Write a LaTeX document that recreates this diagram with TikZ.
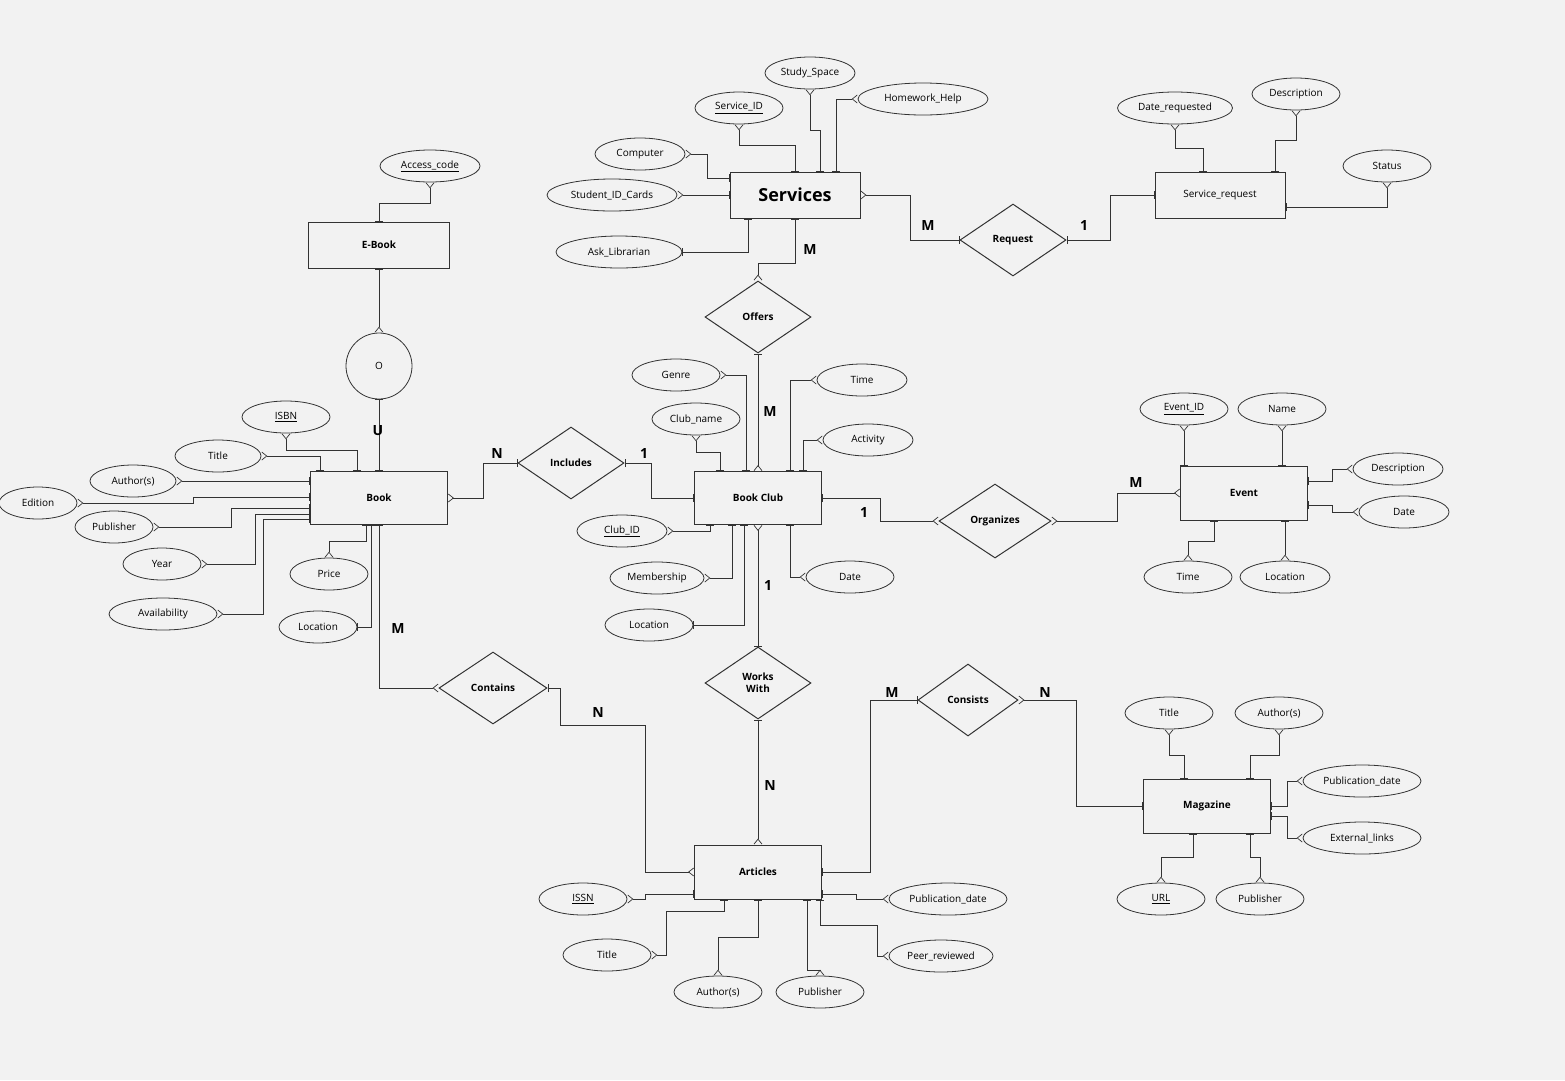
\documentclass[tikz,border=0pt]{standalone}
\usepackage{fontspec}
\setmainfont{Open Sans}
\usetikzlibrary{shapes.geometric,arrows.meta}
\definecolor{bg}{HTML}{F2F2F2}
\definecolor{ln}{HTML}{333333}
\tikzset{
  ent/.style={draw=ln,line width=1pt,rectangle,minimum width=#1,minimum height=50pt,inner sep=0pt,font=\bfseries\fontsize{10}{12}\selectfont},
  ent/.default=127pt,
  att/.style={draw=ln,line width=0.8pt,ellipse,minimum width=#1,minimum height=32pt,inner sep=0pt,font=\fontsize{10}{12}\selectfont,fill=bg},
  att/.default=88pt,
  rel/.style={draw=ln,line width=1pt,diamond,aspect=1.47,minimum width=106pt,minimum height=72pt,inner sep=0pt,align=center,font=\bfseries\fontsize{10}{12}\selectfont,fill=bg},
  card/.style={font=\bfseries\fontsize{14}{16}\selectfont},
  ln/.style={draw=ln,line width=0.7pt},
  bc/.style={ln,{Bar[width=8pt] Bar[width=0pt,sep=3pt]}-{Straight Barb[reversed,length=5pt,width=8pt]}},
  bb/.style={ln,{Bar[width=8pt] Bar[width=0pt,sep=3pt]}-{Bar[width=0pt,sep=3pt] Bar[width=8pt]}},
  cb/.style={ln,{Straight Barb[reversed,length=5pt,width=8pt]}-{Bar[width=0pt,sep=3pt] Bar[width=8pt]}},
  cc/.style={ln,{Straight Barb[reversed,length=5pt,width=8pt]}-{Straight Barb[reversed,length=5pt,width=8pt]}},
}
\begin{document}
\begin{tikzpicture}[x=1pt,y=-1pt]
\fill[bg] (0,0) rectangle (1565,1080);
\useasboundingbox (0,0) rectangle (1565,1080);
% entities
\node[ent=130pt,minimum height=46pt,font=\bfseries\fontsize{18}{20}\selectfont] (sv) at (795,195) {Services};
\node[ent=130pt,minimum height=46pt,font=\fontsize{10}{12}\selectfont] (sr) at (1220,195) {Service\_request};
\node[ent=141pt,minimum height=46pt] (eb) at (379,245) {E-Book};
\node[ent=137pt,minimum height=53pt] (book) at (379,498) {Book};
\node[ent,minimum height=53pt] (bc) at (758,498) {Book Club};
\node[ent,minimum height=54pt] (ev) at (1244,493) {Event};
\node[ent,minimum height=54pt] (art) at (758,872) {Articles};
\node[ent,minimum height=54pt] (mag) at (1207,806) {Magazine};
% relationships
\node[rel] (req) at (1013,240) {Request};
\node[rel] (off) at (758,317) {Offers};
\node[rel] (inc) at (571,463) {Includes};
\node[rel,minimum width=112pt,minimum height=74pt] (org) at (995,521) {Organizes};
\node[rel,minimum width=108pt] (con) at (493,688) {Contains};
\node[rel] (ww) at (758,683) {Works\\With};
\node[rel,minimum width=100pt] (cons) at (968,700) {Consists};
\node[draw=ln,line width=0.8pt,circle,minimum size=66pt,inner sep=0pt,font=\fontsize{10}{12}\selectfont] (o) at (379,366) {O};
% attributes
\node[att=90pt] (ss) at (810,73) {Study\_Space};
\node[att] (sid) at (739,108) {\underline{Service\_ID}};
\node[att=130pt] (hh) at (923,99) {Homework\_Help};
\node[att=90pt] (comp) at (640,154) {Computer};
\node[att=130pt] (sidc) at (612,195) {Student\_ID\_Cards};
\node[att=126pt] (ask) at (619,252) {Ask\_Librarian};
\node[att=115pt] (dr) at (1175,108) {Date\_requested};
\node[att] (desc1) at (1296,94) {Description};
\node[att] (st) at (1387,166) {Status};
\node[att=100pt] (ac) at (430,166) {\underline{Access\_code}};
\node[att] (isbn) at (286,417) {\underline{ISBN}};
\node[att=86pt] (title1) at (218,456) {Title};
\node[att=86pt] (auth1) at (133,481) {Author(s)};
\node[att=78pt] (ed) at (38,503) {Edition};
\node[att=78pt] (pub1) at (114,527) {Publisher};
\node[att=78pt] (year) at (162,564) {Year};
\node[att=78pt] (price) at (329,574) {Price};
\node[att=108pt] (av) at (163,614) {Availability};
\node[att=78pt] (loc1) at (318,627) {Location};
\node[att] (genre) at (676,375) {Genre};
\node[att] (cn) at (696,419) {Club\_name};
\node[att=90pt] (time1) at (862,380) {Time};
\node[att=90pt] (act) at (868,440) {Activity};
\node[att=90pt] (cid) at (622,531) {\underline{Club\_ID}};
\node[att=94pt] (mem) at (657,578) {Membership};
\node[att] (loc2) at (649,625) {Location};
\node[att] (date1) at (850,577) {Date};
\node[att] (eid) at (1184,409) {\underline{Event\_ID}};
\node[att] (name) at (1282,409) {Name};
\node[att=90pt] (desc2) at (1398,469) {Description};
\node[att=90pt] (date2) at (1404,512) {Date};
\node[att] (time2) at (1188,577) {Time};
\node[att=90pt] (loc3) at (1285,577) {Location};
\node[att] (title4) at (1169,713) {Title};
\node[att] (auth4) at (1279,713) {Author(s)};
\node[att=118pt] (pd4) at (1362,781) {Publication\_date};
\node[att=118pt] (el) at (1362,838) {External\_links};
\node[att] (url) at (1161,899) {\underline{URL}};
\node[att] (pub4) at (1260,899) {Publisher};
\node[att] (issn) at (583,899) {\underline{ISSN}};
\node[att=118pt] (pd3) at (948,899) {Publication\_date};
\node[att] (title3) at (607,955) {Title};
\node[att=104pt] (pr) at (941,956) {Peer\_reviewed};
\node[att] (auth3) at (718,992) {Author(s)};
\node[att] (pub3) at (820,992) {Publisher};
% services attributes
\draw[bc] (sv.north -| 795,0) -- (795,145) -| (sid.south);
\draw[bc] (sv.north -| 820,0) -- (820,130) -| (ss.south);
\draw[bc] (sv.north -| 836,0) |- (hh.west);
\draw[bc] (sv.west |- 0,178) -- (707,178) |- (comp.east);
\draw[bc] (sv.west |- sidc.east) -- (sidc.east);
\draw[bb] (sv.south -| 748,0) |- (ask.east);
\draw[bc] (sr.north -| 1203,0) -- (1203,148) -| (dr.south);
\draw[bc] (sr.north -| 1275,0) -- (1275,140) -| (desc1.south);
\draw[bc] (sr.east |- 0,207) -| (st.south);
\draw[cb] (sv.east) -- (910,195) |- (req.west);
\draw[bb] (req.east) -- (1110,240) |- (sr.west);
\draw[bc] (sv.south) -- (795,263) -| (off.north);
\draw[bc] (off.south) -- (bc.north);
% e-book
\draw[bc] (eb.north -| 379,0) -- (379,203) -| (ac.south);
\draw[bc] (eb.south) -- (o.north);
\draw[bb] (o.south) -- (book.north);
% book attributes
\draw[bc] (book.north -| 357,0) -- (357,450) -| (isbn.south);
\draw[bc] (book.north -| 320,0) |- (title1.east);
\draw[bc] (book.west |- 0,481) -- (auth1.east);
\draw[bc] (book.west |- 0,497) -- (193,497) |- (ed.east);
\draw[bc] (book.west |- 0,508) -- (231,508) |- (pub1.east);
\draw[bc] (book.west |- 0,514) -- (255,514) |- (year.east);
\draw[bc] (book.west |- 0,519) -- (263,519) |- (av.east);
\draw[bc] (book.south -| 366,0) -- (366,541) -| (price.north);
\draw[bb] (book.south -| 371,0) |- (loc1.east);
\draw[bc] (book.south) |- (con.west);
\draw[bc] (con.east) -- (560,688) |- (645,725) |- (art.west);
\draw[cb] (book.east) -- (483,498) |- (inc.west);
\draw[bb] (inc.east) -- (651,463) |- (bc.west);
% book club attributes
\draw[bc] (bc.north -| 746,0) |- (genre.east);
\draw[bc] (bc.north -| 720,0) -- (720,452) -| (cn.south);
\draw[bc] (bc.north -| 790,0) |- (time1.west);
\draw[bc] (bc.north -| 803,0) |- (act.west);
\draw[bc] (bc.south -| 710,0) |- (cid.east);
\draw[bc] (bc.south -| 732,0) |- (mem.east);
\draw[bb] (bc.south -| 744,0) |- (loc2.east);
\draw[bc] (bc.south -| 790,0) |- (date1.west);
\draw[bc] (bc.east) -- (880,498) |- (org.west);
\draw[cc] (org.east) -- (1117,521) |- (ev.west);
\draw[cb] (bc.south) -- (ww.north);
\draw[bc] (ww.south) -- (art.north);
% event attributes
\draw[bc] (ev.north -| eid.south) -- (eid.south);
\draw[bc] (ev.north -| name.south) -- (name.south);
\draw[bc] (ev.east |- 0,481) -- (1332,481) |- (desc2.west);
\draw[bc] (ev.east |- 0,505) -- (1332,505) |- (date2.west);
\draw[bc] (ev.south -| 1214,0) -- (1214,541) -| (time2.north);
\draw[bc] (ev.south -| loc3.north) -- (loc3.north);
% articles attributes
\draw[bc] (art.west |- 0,894) -- (645,894) |- (issn.east);
\draw[bc] (art.south -| 724,0) -- (724,911) -- (666,911) |- (title3.east);
\draw[bc] (art.south -| 758,0) -- (758,937) -| (auth3.north);
\draw[bc] (art.south -| 807,0) -- (807,970) -| (pub3.north);
\draw[bc] (art.east |- 0,894) -- (856,894) |- (pd3.west);
\draw[bc] (art.south -| 820,0) -- (820,925) -- (877,925) |- (pr.west);
\draw[bb] (art.east) -- (870,872) |- (cons.west);
\draw[cb] (cons.east) -- (1076,700) |- (mag.west);
% magazine attributes
\draw[bc] (mag.north -| 1184,0) -- (1184,755) -| (title4.south);
\draw[bc] (mag.north -| 1250,0) -- (1250,755) -| (auth4.south);
\draw[bc] (mag.east |- 0,806) -- (1287,806) |- (pd4.west);
\draw[bc] (mag.east |- 0,816) -- (1287,816) |- (el.west);
\draw[bc] (mag.south -| 1193,0) -- (1193,857) -| (url.north);
\draw[bc] (mag.south -| 1250,0) -- (1250,857) -| (pub4.north);
% cardinalities
\node[card] (c1) at (928,225) {M};
\node[card] (c2) at (1084,225) {1};
\node[card] (c3) at (810,249) {M};
\node[card] (c4) at (770,411) {M};
\node[card] (c5) at (378,431) {U};
\node[card] (c6) at (497,453) {N};
\node[card] (c7) at (644,453) {1};
\node[card] (c8) at (864,512) {1};
\node[card] (c9) at (1136,482) {M};
\node[card] (c10) at (768,585) {1};
\node[card] (c11) at (398,628) {M};
\node[card] (c12) at (598,712) {N};
\node[card] (c13) at (770,785) {N};
\node[card] (c14) at (892,692) {M};
\node[card] (c15) at (1045,692) {N};
\end{tikzpicture}
\end{document}
